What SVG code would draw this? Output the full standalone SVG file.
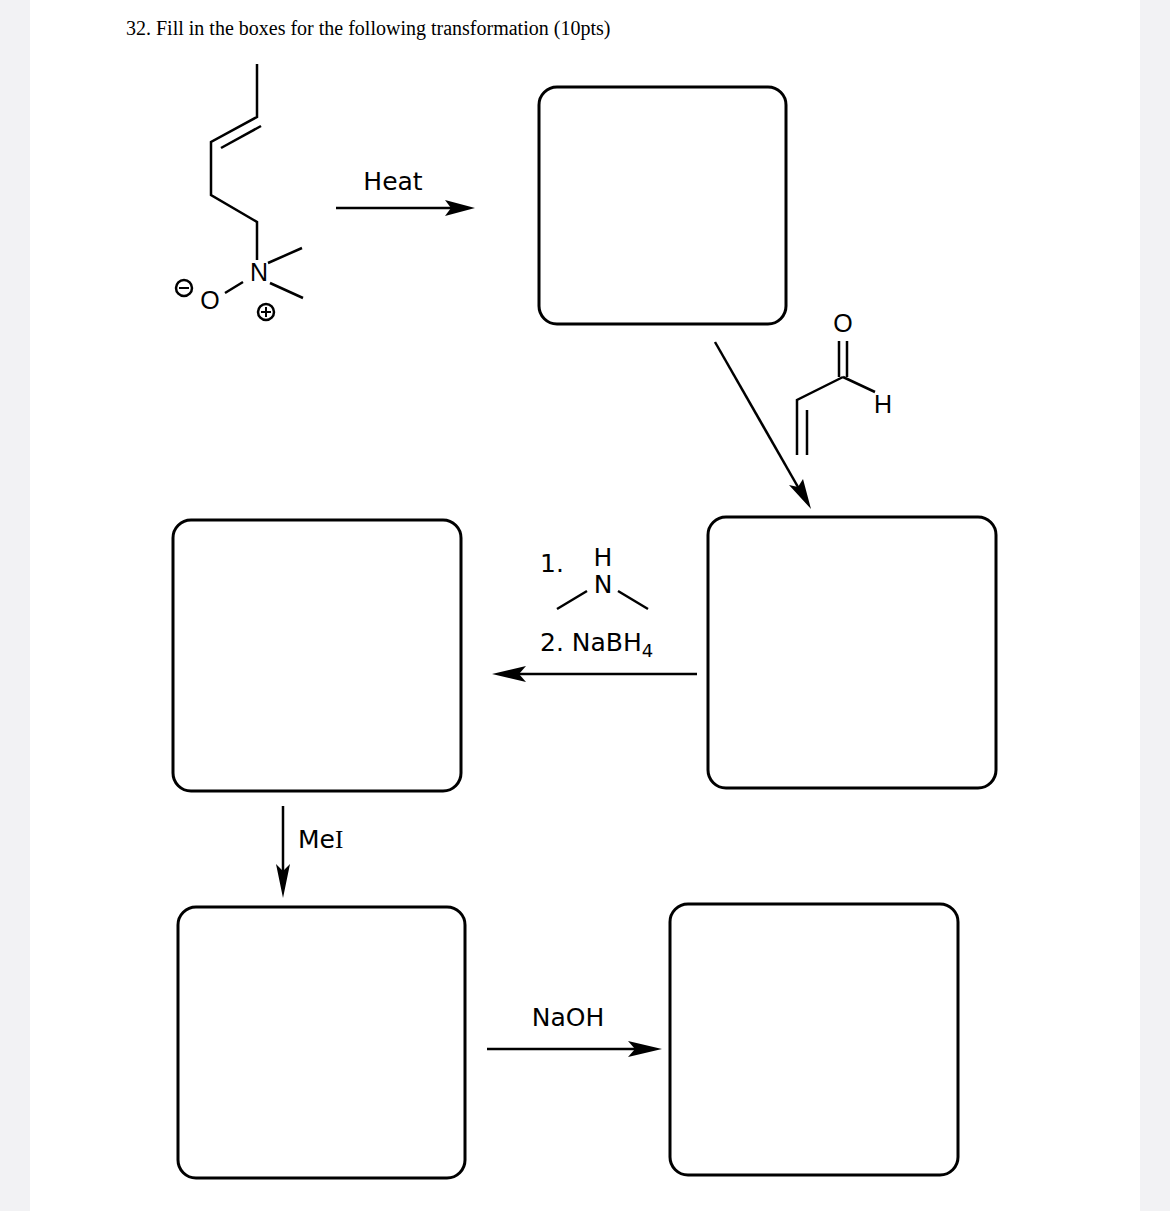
<svg xmlns="http://www.w3.org/2000/svg" width="1170" height="1211" viewBox="0 0 1170 1211">
<defs>
<style>
.box{fill:#fff;stroke:#000;stroke-width:3;}
.t{font-family:"DejaVu Sans",sans-serif;font-size:25px;fill:#000;}
.m{font-family:"Liberation Sans",sans-serif;font-size:25px;fill:#000;}
.l{stroke:#000;stroke-width:2.5;fill:none;}
.h{fill:#000;}
</style>
</defs>
<rect width="1170" height="1211" fill="#f2f2f4"/>
<rect x="30" y="0" width="1110" height="1211" fill="#fff"/>
<text x="126" y="35" font-family="Liberation Serif,serif" font-size="20">32. Fill in the boxes for the following transformation (10pts)</text>
<g id="start">
<path class="l" d="M257,64 V117 L211,142 V195 L257,222 V260"/>
<path class="l" d="M221,148 L261,126"/>
<path class="l" d="M268,263 L302,248 M270,283 L303,298 M225,293 L243,282"/>
<text class="m" x="259" y="281" text-anchor="middle">N</text>
<text class="m" x="210" y="309" text-anchor="middle">O</text>
<circle cx="184" cy="288" r="8" class="l" stroke-width="2"/><path d="M179,288 H189" stroke="#000" stroke-width="2"/>
<circle cx="266" cy="312" r="8" class="l" stroke-width="2"/><path d="M261,312 H271 M266,307 V317" stroke="#000" stroke-width="2"/>
</g>
<g id="box1"><rect class="box" x="539" y="87" width="247" height="237" rx="18"/></g>
<g id="box2"><rect class="box" x="708" y="517" width="288" height="271" rx="18"/></g>
<g id="box3"><rect class="box" x="173" y="520" width="288" height="271" rx="18"/></g>
<g id="box4"><rect class="box" x="178" y="907" width="287" height="271" rx="18"/></g>
<g id="box5"><rect class="box" x="670" y="904" width="288" height="271" rx="18"/></g>
<g id="acrolein">
<text class="m" x="843" y="332" text-anchor="middle">O</text>
<path class="l" d="M839,341 V377 M847,341 V377"/>
<path class="l" d="M843,377 L875,392 M843,377 L797,400 V455 M807,410 V455"/>
<text class="m" x="883" y="413" text-anchor="middle">H</text>
</g>
<g id="amine">
<text class="t" x="540" y="572" font-size="23">1.</text>
<text class="t" x="603" y="566" text-anchor="middle" font-size="22">H</text>
<text class="t" x="603" y="593" text-anchor="middle" font-size="22">N</text>
<path class="l" d="M557,609 L587,591 M618,591 L648,609"/>
</g>
<g id="connectors">
<line class="l" x1="336" y1="208" x2="455" y2="208"/>
<path class="h" d="M475,208 L445,200 L451,208 L445,216Z"/>
<line class="l" x1="715" y1="342" x2="802" y2="494"/>
<path class="h" d="M811,509 L789,485 L798,487 L803,479Z"/>
<line class="l" x1="697" y1="674" x2="510" y2="674"/>
<path class="h" d="M492,674 L526,666 L519,674 L526,682Z"/>
<line class="l" x1="283" y1="806" x2="283" y2="880"/>
<path class="h" d="M283,898 L276,864 L283,871 L290,864Z"/>
<line class="l" x1="487" y1="1049" x2="645" y2="1049"/>
<path class="h" d="M662,1049 L628,1041 L635,1049 L628,1057Z"/>
</g>
<text class="t" x="393" y="190" text-anchor="middle">Heat</text>
<text class="t" x="540" y="651">2. NaBH<tspan font-size="18" dy="6">4</tspan></text>
<text class="t" x="298" y="848">Me<tspan font-family="Liberation Serif,serif">I</tspan></text>
<text class="t" x="568" y="1026" text-anchor="middle">NaOH</text>
</svg>
